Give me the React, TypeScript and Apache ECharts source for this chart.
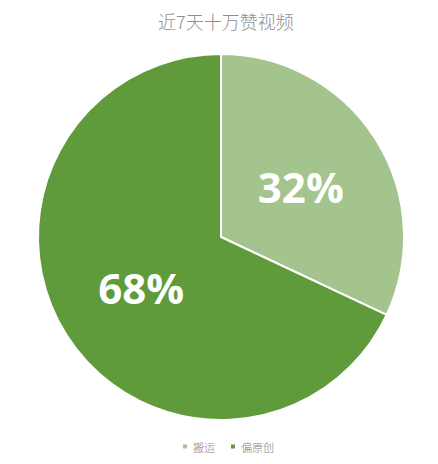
import { useEffect, useRef } from "react";
import * as echarts from "echarts";

const title = "近7天十万赞视频";
const categories = ["搬运", "偏原创"];
const shares = [32, 68];
const colors = ["#a3c48d", "#5f9b3b"];

export default function App() {
  const chartRef = useRef<HTMLDivElement>(null);

  useEffect(() => {
    document.body.style.margin = "0";
    if (!chartRef.current) return;
    const chart = echarts.init(chartRef.current, undefined, { renderer: "svg" });

    const option: echarts.EChartsOption = {
      animation: false,
      backgroundColor: "#ffffff",
      color: colors,
      title: {
        text: title,
        left: 153,
        top: 7,
        textStyle: {
          fontFamily: "Noto Sans CJK SC",
          fontSize: 18,
          fontWeight: 300,
          color: "#8f8f8f",
        },
      },
      legend: {
        bottom: 7,
        left: 176,
        padding: 5,
        icon: "rect",
        itemWidth: 6,
        itemHeight: 6,
        itemGap: 14,
        textStyle: {
          fontFamily: "Noto Sans CJK SC",
          fontSize: 11,
          fontWeight: 300,
          color: "#808080",
        },
        data: categories,
      },
      series: [
        {
          type: "pie",
          center: [221, 237],
          radius: 183,
          startAngle: 90,
          clockwise: true,
          itemStyle: { borderColor: "#ffffff", borderWidth: 2 },
          label: {
            show: true,
            position: "inside",
            formatter: "{c}%",
            color: "#ffffff",
            fontFamily: "Open Sans",
            fontWeight: "bold",
            fontSize: 42,
          },
          labelLine: { show: false },
          emphasis: { disabled: true },
          data: categories.map((name, i) => ({ name, value: shares[i] })),
        },
      ],
    };

    chart.setOption(option);
    return () => chart.dispose();
  }, []);

  return <div ref={chartRef} style={{ width: 438, height: 464 }} />;
}
